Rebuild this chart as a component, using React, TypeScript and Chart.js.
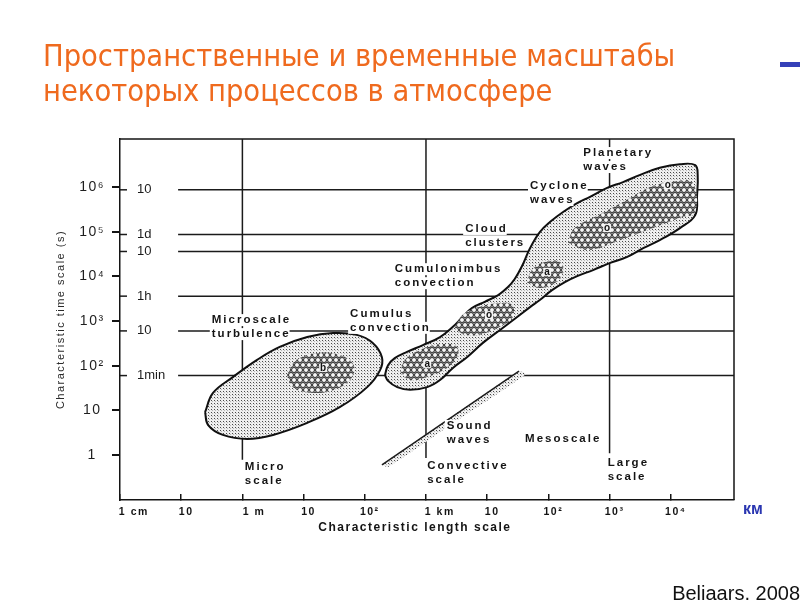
import React, { useEffect, useRef } from "react";
import { Chart, registerables } from "chart.js";

Chart.register(...registerables);

// ---------------- axis values ----------------
const xTickValues = [0.01, 0.1, 1, 10, 100, 1e3, 1e4, 1e5, 1e6, 1e7]; // metres
const xTickLabels = ["\u00a0\u00a0\u00a0\u00a01 cm", "10", "\u00a0\u00a0\u00a01 m", "10", "10²", "\u00a0\u00a0\u00a0\u00a01 km", "10", "10²", "10³", "10⁴"];
const yTickValues = [1, 10, 100, 1e3, 1e4, 1e5, 1e6]; // seconds
const yTickLabels = ["1", "10", "10²", "10³", "10⁴", "10⁵", "10⁶"];
const xLimits = [0.01, 1.08e8];
const yLimits = [0.0984, 1.186e7];

// secondary time marks (seconds): 10 d, 1 d, 10 h, 1 h, 10 min, 1 min
const timeMarkValues = [864000, 86400, 36000, 3600, 600, 60];
const timeMarkLabels = ["10", "1d", "10", "1h", "10", "1min"];
const timeLineStart = 0.089; // metres

// vertical guide lines (metres) and their lower ends (seconds)
const lengthMarkValues = [1, 1e3, 1e6];
const lengthMarkBottoms = [0.78, 0.86, 1.1];

// ---------------- regions: [log10 length (m), log10 time (s)] ----------------
const microscaleOutline = [
  [-0.61, 0.96], [-0.48, 1.39], [-0.15, 1.75], [0.24, 2.13], [0.61, 2.42], [1.06, 2.64],
  [1.48, 2.73], [1.87, 2.69], [2.13, 2.51], [2.28, 2.19], [2.25, 1.9], [2.04, 1.52],
  [1.59, 1.07], [1.06, 0.72], [0.5, 0.45], [0.08, 0.36], [-0.32, 0.45], [-0.56, 0.67],
];
const mesoBandOutline = [
  [2.33, 1.79], [2.38, 2.01], [2.49, 2.17], [2.69, 2.31], [2.95, 2.46], [3.23, 2.64],
  [3.44, 2.87], [3.6, 3.09], [3.75, 3.29], [3.96, 3.43], [4.18, 3.58], [4.34, 3.76],
  [4.45, 3.94], [4.57, 4.23], [4.7, 4.63], [4.86, 4.99], [5.03, 5.22], [5.24, 5.44],
  [5.47, 5.64], [5.68, 5.78], [5.96, 5.98], [6.22, 6.11], [6.5, 6.27], [6.82, 6.43],
  [7.15, 6.51], [7.4, 6.49], [7.44, 6.27], [7.43, 5.82], [7.4, 5.37], [7.15, 5.08],
  [6.82, 4.81], [6.55, 4.63], [6.28, 4.43], [6.01, 4.3], [5.73, 4.14], [5.48, 4.01],
  [5.27, 3.87], [5.06, 3.69], [4.86, 3.47], [4.7, 3.31], [4.49, 3.09], [4.21, 2.8],
  [3.93, 2.51], [3.67, 2.19], [3.44, 1.95], [3.23, 1.68], [3.02, 1.52], [2.74, 1.46],
  [2.53, 1.52], [2.38, 1.66],
];
const microscaleCore = [
  [0.73, 1.79], [0.86, 2.1], [1.2, 2.28], [1.59, 2.24], [1.82, 2.01], [1.76, 1.68],
  [1.43, 1.43], [1.02, 1.41], [0.81, 1.54],
];
const cumulusCoreA = [
  [2.58, 1.86], [2.66, 2.13], [2.9, 2.35], [3.23, 2.48], [3.49, 2.44], [3.52, 2.22],
  [3.34, 1.95], [3.03, 1.75], [2.74, 1.68],
];
const cumulusCoreB = [
  [3.47, 2.84], [3.59, 3.13], [3.85, 3.31], [4.18, 3.4], [4.41, 3.36], [4.41, 3.07],
  [4.21, 2.87], [3.92, 2.71], [3.64, 2.69],
];
const cumulonimbusCore = [
  [4.65, 3.87], [4.73, 4.14], [4.94, 4.32], [5.19, 4.32], [5.24, 4.1], [5.11, 3.85], [4.86, 3.74],
];
const synopticCore = [
  [5.32, 4.75], [5.43, 5.08], [5.89, 5.42], [6.33, 5.75], [6.71, 6.02], [7.07, 6.13],
  [7.36, 6.09], [7.4, 5.44], [7.15, 5.31], [6.71, 5.08], [6.17, 4.81], [5.65, 4.59],
];
const soundWaveLine = [[2.28, -0.22], [4.52, 1.88]];
const soundWaveShade = [[2.28, -0.22], [4.52, 1.88], [4.63, 1.81], [3.47, 0.74], [2.38, -0.27]];

const coreLetterText = ["b", "a", "o", "a", "o", "o"];
const coreLetterPos = [[1.32, 1.95], [3.02, 2.04], [4.03, 3.13], [4.98, 4.1], [5.96, 5.08], [6.95, 6.04]];

const processLabelText = [
  ["Planetary", "waves"], ["Cyclone", "waves"], ["Cloud", "clusters"],
  ["Cumulonimbus", "convection"], ["Cumulus", "convection"], ["Microscale", "turbulence"],
  ["Micro", "scale"], ["Sound", "waves"], ["Mesoscale"], ["Convective", "scale"], ["Large", "scale"],
];
const processLabelPos = [
  [5.57, 6.76], [4.7, 6.02], [3.64, 5.06], [2.49, 4.16], [1.76, 3.16], [-0.5, 3.02],
  [0.04, -0.27], [3.34, 0.65], [4.62, 0.36], [3.02, -0.25], [5.97, -0.18],
];

const titleLines = ["Пространственные и временные масштабы", "некоторых процессов в атмосфере"];
const sourceText = "Beljaars, 2008";
const unitText = "км";

// ---------------- helpers ----------------
const toPts = (arr: number[][]) => arr.map(([l, t]) => ({ x: 10 ** l, y: 10 ** t }));
const closed = (arr: number[][]) => toPts([...arr, arr[0]]);

function makeStipple(): CanvasPattern {
  const c = document.createElement("canvas");
  c.width = 3;
  c.height = 3;
  const g = c.getContext("2d")!;
  g.fillStyle = "#efefef";
  g.fillRect(0, 0, 3, 3);
  g.fillStyle = "#4a4a4a";
  g.fillRect(1, 1, 1, 1);
  g.fillStyle = "#b8b8b8";
  g.fillRect(2, 2, 1, 1);
  return g.createPattern(c, "repeat")!;
}

function makeMesh(): CanvasPattern {
  const c = document.createElement("canvas");
  c.width = 6;
  c.height = 10;
  const g = c.getContext("2d")!;
  g.fillStyle = "#cfcfcf";
  g.fillRect(0, 0, 6, 10);
  const centers = [[0, 0], [6, 0], [0, 10], [6, 10], [3, 5]];
  for (const [cx, cy] of centers) {
    g.beginPath();
    g.arc(cx, cy, 2.5, 0, Math.PI * 2);
    g.fillStyle = "#f6f6f6";
    g.fill();
    g.strokeStyle = "#262626";
    g.lineWidth = 1;
    g.stroke();
  }
  return g.createPattern(c, "repeat")!;
}

const overlayPlugin = {
  id: "overlay",
  beforeDraw(chart: any) {
    chart.ctx.letterSpacing = "0px";
  },
  beforeDatasetsDraw(chart: any) {
    const { ctx, chartArea } = chart;
    ctx.save();
    ctx.strokeStyle = "#141414";
    ctx.lineWidth = 1.5;
    ctx.beginPath();
    ctx.moveTo(chartArea.left, chartArea.top);
    ctx.lineTo(chartArea.right, chartArea.top);
    ctx.lineTo(chartArea.right, chartArea.bottom);
    ctx.stroke();
    ctx.restore();
  },
  afterDatasetsDraw(chart: any) {
    const { ctx, chartArea } = chart;
    const xs = chart.scales.x;
    const ys = chart.scales.y;
    ctx.save();
    // secondary time marks inside the left axis
    ctx.strokeStyle = "#1b1b1b";
    ctx.lineWidth = 1.5;
    ctx.fillStyle = "#1b1b1b";
    ctx.font = "13px 'Liberation Sans', Arial, sans-serif";
    ctx.textAlign = "left";
    ctx.textBaseline = "middle";
    timeMarkValues.forEach((v, i) => {
      const py = ys.getPixelForValue(v);
      ctx.beginPath();
      ctx.moveTo(chartArea.left, py);
      ctx.lineTo(chartArea.left + 7, py);
      ctx.stroke();
      ctx.fillText(timeMarkLabels[i], chartArea.left + 17, py);
    });
    // process labels
    ctx.font = "bold 11.5px 'Liberation Sans', Arial, sans-serif";
    ctx.letterSpacing = "2px";
    processLabelText.forEach((lines, i) => {
      const px = xs.getPixelForValue(10 ** processLabelPos[i][0]);
      const py = ys.getPixelForValue(10 ** processLabelPos[i][1]);
      lines.forEach((t, j) => {
        const ty = py + j * 14;
        const w = ctx.measureText(t).width;
        ctx.fillStyle = "#ffffff";
        ctx.fillRect(px - 2, ty - 6, w + 1, 12);
        ctx.fillStyle = "#141414";
        ctx.fillText(t, px, ty);
      });
    });
    // letters in the cores
    ctx.letterSpacing = "0px";
    ctx.font = "bold 10px 'Liberation Sans', Arial, sans-serif";
    ctx.textAlign = "center";
    coreLetterText.forEach((t, i) => {
      const px = xs.getPixelForValue(10 ** coreLetterPos[i][0]);
      const py = ys.getPixelForValue(10 ** coreLetterPos[i][1]);
      ctx.fillStyle = "#f4f4f4";
      ctx.fillRect(px - 4, py - 4, 8, 8);
      ctx.fillStyle = "#141414";
      ctx.fillText(t, px, py);
    });
    // unit
    ctx.font = "bold 16px 'Liberation Sans', Arial, sans-serif";
    ctx.fillStyle = "#2a36b1";
    ctx.textAlign = "left";
    ctx.fillText(unitText, chartArea.right + 9, chartArea.bottom + 10);
    ctx.restore();
    ctx.letterSpacing = "1.5px";
  },
  afterDraw(chart: any) {
    chart.ctx.letterSpacing = "0px";
  },
};

export default function App() {
  const ref = useRef<HTMLCanvasElement>(null);

  useEffect(() => {
    const canvas = ref.current!;
    const stipple = makeStipple();
    const mesh = makeMesh();

    const guide = { borderColor: "#1b1b1b", borderWidth: 1.5, showLine: true, pointRadius: 0, pointHoverRadius: 0, fill: false, order: 10, xAxisID: "x", yAxisID: "y" };
    const timeLines = timeMarkValues.map((v) => ({
      ...guide,
      data: [{ x: timeLineStart, y: v }, { x: xLimits[1], y: v }],
    }));
    const lengthLines = lengthMarkValues.map((v, i) => ({
      ...guide,
      data: [{ x: v, y: lengthMarkBottoms[i] }, { x: v, y: yLimits[1] }],
    }));
    const region = (pts: number[][], order: number, bg: any, border: boolean) => ({
      data: closed(pts),
      showLine: true,
      pointRadius: 0,
      pointHoverRadius: 0,
      tension: 0.4,
      fill: "shape",
      backgroundColor: bg,
      borderColor: border ? "#101010" : "rgba(0,0,0,0)",
      borderWidth: border ? 2 : 1,
      order,
      xAxisID: "x",
      yAxisID: "y",
    });

    const datasets: any[] = [
      ...timeLines,
      ...lengthLines,
      { ...region(soundWaveShade, 7, stipple, false), tension: 0.2 },
      { ...guide, data: toPts(soundWaveLine), order: 6 },
      region(microscaleOutline, 5, stipple, true),
      region(mesoBandOutline, 4, stipple, true),
      region(microscaleCore, 2, mesh, false),
      region(cumulusCoreA, 2, mesh, false),
      region(cumulusCoreB, 2, mesh, false),
      region(cumulonimbusCore, 2, mesh, false),
      region(synopticCore, 2, mesh, false),
    ];

    const tickFontX = { family: "'Liberation Sans', Arial, sans-serif", weight: "bold" as const, size: 10.5 };

    const chart = new Chart(canvas, {
      type: "scatter",
      data: { datasets },
      plugins: [overlayPlugin],
      options: {
        responsive: false,
        animation: false,
        devicePixelRatio: 1,
        events: [],
        layout: { padding: { left: 43, right: 0, top: 0, bottom: 0 } },
        plugins: {
          legend: { display: false },
          tooltip: { enabled: false },
          title: {
            display: true,
            text: titleLines,
            align: "start",
            color: "#ef6a1e",
            font: { family: "'DejaVu Sans Condensed', 'DejaVu Sans', sans-serif", size: 30.5, weight: "normal", lineHeight: 35 / 30.5 },
            padding: { top: 41, bottom: 28 },
          },
          subtitle: {
            display: true,
            text: sourceText,
            position: "bottom",
            align: "end",
            color: "#111111",
            font: { family: "'Liberation Sans', Arial, sans-serif", size: 20, weight: "normal", lineHeight: 0.6 },
            padding: 0,
          },
        },
        scales: {
          x: {
            type: "logarithmic",
            position: "bottom",
            min: xLimits[0],
            max: xLimits[1],
            afterBuildTicks: (s: any) => {
              s.ticks = xTickValues.map((v) => ({ value: v }));
            },
            afterFit: (s: any) => {
              s.height = 88;
            },
            ticks: {
              autoSkip: false,
              maxRotation: 0,
              minRotation: 0,
              padding: 12,
              labelOffset: 5,
              color: "#141414",
              font: tickFontX,
              z: 1,
              callback: (_v: any, i: number) => xTickLabels[i],
            },
            grid: { drawOnChartArea: false, drawTicks: true, tickLength: -6, color: "#141414", lineWidth: 1.5, z: 1 },
            border: { display: true, color: "#141414", width: 1.5, z: 1 },
            title: {
              display: true,
              text: "Characteristic length scale\u00a0\u00a0\u00a0\u00a0\u00a0",
              color: "#141414",
              font: { family: "'Liberation Sans', Arial, sans-serif", weight: "bold", size: 12 },
              padding: { top: 0, bottom: 53 },
            },
          },
          y: {
            type: "logarithmic",
            position: "left",
            min: yLimits[0],
            max: yLimits[1],
            afterBuildTicks: (s: any) => {
              s.ticks = yTickValues.map((v) => ({ value: v }));
            },
            afterFit: (s: any) => {
              s.width = 77;
            },
            ticks: {
              autoSkip: false,
              crossAlign: "center",
              padding: 9,
              color: "#1e1e1e",
              font: { family: "'Liberation Sans', Arial, sans-serif", size: 14 },
              z: 1,
              callback: (_v: any, i: number) => yTickLabels[i],
            },
            grid: { drawOnChartArea: false, drawTicks: true, tickLength: 8, color: "#141414", lineWidth: 2, z: 1 },
            border: { display: true, color: "#141414", width: 1.5, z: 1 },
            title: {
              display: true,
              text: "Characteristic time scale (s)",
              color: "#2a2a2a",
              font: { family: "'Liberation Sans', Arial, sans-serif", size: 11 },
              padding: { top: 11, bottom: 0 },
            },
          },
          y2: {
            type: "linear",
            position: "right",
            display: true,
            afterFit: (s: any) => {
              s.width = 66;
            },
            ticks: { display: false },
            grid: { display: false, drawTicks: false },
            border: { display: false },
          },
        },
      } as any,
    });
    return () => chart.destroy();
  }, []);

  return (
    <div>
      <canvas ref={ref} width={800} height={600} style={{ position: "fixed", left: 0, top: 0, width: 800, height: 600 }} />
      <div style={{ position: "fixed", left: 780, top: 62, width: 20, height: 5, background: "#3540b8" }} />
    </div>
  );
}
